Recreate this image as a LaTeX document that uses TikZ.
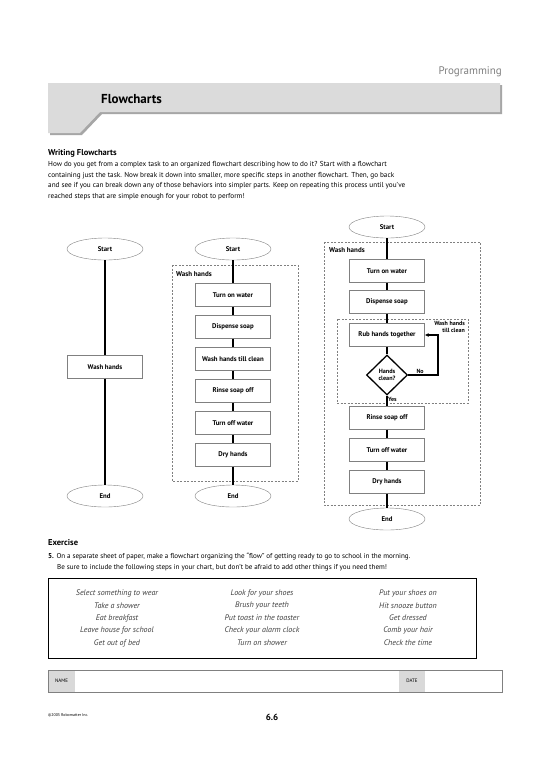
\documentclass[tikz,border=0pt]{standalone}
\usepackage{fontspec}
\setmainfont{PT Sans}
\usetikzlibrary{positioning,shapes.geometric,arrows.meta}

\begin{document}
\begin{tikzpicture}[x=1pt, y=-1pt, node distance=32pt, on grid,
   term/.style={ellipse, draw=gray, thin, minimum width=76pt, minimum height=22pt, inner sep=0pt, font=\bfseries\fontsize{6.8}{8}\selectfont},
   task/.style={rectangle, draw=gray, thin, minimum width=75pt, minimum height=23pt, inner sep=1pt, font=\bfseries\fontsize{6.8}{8}\selectfont},
   test/.style={diamond, aspect=1, draw=black, line width=1.3pt, minimum width=41pt, minimum height=40pt, inner sep=0pt, align=center, font=\bfseries\fontsize{6.2}{7.2}\selectfont},
   group/.style={draw=gray, dash pattern=on 2pt off 1.5pt, line width=0.6pt},
   grouplabel/.style={anchor=west, inner sep=0pt, font=\bfseries\fontsize{7}{8}\selectfont},
   flow/.style={line width=1.4pt},
   chore/.style={font=\itshape\fontsize{8}{9}\selectfont, text=black!75, inner sep=0pt},
   small/.style={font=\bfseries\fontsize{6}{7}\selectfont, inner sep=1pt}]
   \useasboundingbox (0,0) rectangle (550,777);
   \fill[white] (0,0) rectangle (550,777);

   % banner
   \fill[gray!70] (50,85) -- (502,85) -- (502,114) -- (102,114) -- (82,135) -- (50,135) -- cycle;
   \fill[gray!28] (48,83) -- (500,83) -- (500,112) -- (100,112) -- (80,133) -- (48,133) -- cycle;
   \node[anchor=east, inner sep=0pt, text=gray, font=\fontsize{11}{12}\selectfont] (part) at (502,72) {Programming};
   \node[anchor=west, inner sep=0pt, font=\bfseries\fontsize{13}{15}\selectfont] (title) at (101,99) {Flowcharts};

   % intro
   \node[anchor=west, inner sep=0pt, font=\bfseries\fontsize{8.5}{10}\selectfont] (intro) at (48,153) {Writing Flowcharts};
   \node[anchor=north west, inner sep=0pt, align=left, font=\fontsize{7.2}{10.8}\selectfont] (introtext) at (48,161)
     {How do you get from a complex task to an organized flowchart describing how to do it? Start with a flowchart\\
      containing just the task. Now break it down into smaller, more specific steps in another flowchart. Then, go back\\
      and see if you can break down any of those behaviors into simpler parts. Keep on repeating this process until you've\\
      reached steps that are simple enough for your robot to perform!};

   % first chart
   \node[term] (a_s) at (105,249) {Start};
   \node[task] (a_1) [below=118pt of a_s] {Wash hands};
   \node[term] (a_e) [below=129pt of a_1] {End};
   \path[flow] (a_s) edge (a_1)
               (a_1) edge (a_e);

   % second chart
   \draw[group] (172,265) rectangle (298,481);
   \node[grouplabel] (b_g) at (176,274) {Wash hands};
   \node[term] (b_s) at (233,249) {Start};
   \node[task] (b_1) [below=46pt of b_s] {Turn on water};
   \node[task] (b_2) [below=of b_1] {Dispense soap};
   \node[task] (b_3) [below=of b_2] {Wash hands till clean};
   \node[task] (b_4) [below=of b_3] {Rinse soap off};
   \node[task] (b_5) [below=of b_4] {Turn off water};
   \node[task] (b_6) [below=of b_5] {Dry hands};
   \node[term] (b_e) [below=41pt of b_6] {End};
   \path[flow] (b_s) edge (b_1)
               (b_1) edge (b_2)
               (b_2) edge (b_3)
               (b_3) edge (b_4)
               (b_4) edge (b_5)
               (b_5) edge (b_6)
               (b_6) edge (b_e);

   % third chart
   \draw[group] (324,242) rectangle (480,505);
   \draw[group] (337,319) rectangle (468,403);
   \node[grouplabel] (c_g) at (329,250) {Wash hands};
   \node[anchor=north east, align=right, small] (c_h) at (466,320) {Wash hands\\till clean};
   \node[term] (c_s) at (387,227) {Start};
   \node[task] (c_1) [below=44pt of c_s] {Turn on water};
   \node[task] (c_2) [below=31pt of c_1] {Dispense soap};
   \node[task] (c_3) [below=33pt of c_2] {Rub hands together};
   \node[test] (c_q) [below=40pt of c_3] {Hands\\clean?};
   \node[task] (c_4) [below=43pt of c_q] {Rinse soap off};
   \node[task] (c_5) [below=of c_4] {Turn off water};
   \node[task] (c_6) [below=of c_5] {Dry hands};
   \node[term] (c_e) [below=37pt of c_6] {End};
   \coordinate (c_back) at (438,335);
   \path[flow] (c_s) edge (c_1)
               (c_1) edge (c_2)
               (c_2) edge (c_3)
               (c_3) edge (c_q)
               (c_q) edge (c_4)
               (c_4) edge (c_5)
               (c_5) edge (c_6)
               (c_6) edge (c_e);
   \draw[flow, -{Latex[length=4pt,width=4pt]}] (c_q.east) -| node[pos=0.2, above, small] {No} (c_back) -- (c_3.east);
   \node[anchor=north west, small] (c_y) at (c_q.south) {Yes};

   % exercise
   \node[anchor=west, inner sep=0pt, font=\bfseries\fontsize{8.5}{10}\selectfont] (ex) at (48,543) {Exercise};
   \node[anchor=west, inner sep=0pt, font=\fontsize{7.1}{8}\selectfont] (ex1) at (48,556)
     {\textbf{5.} On a separate sheet of paper, make a flowchart organizing the ``flow'' of getting ready to go to school in the morning.};
   \node[anchor=west, inner sep=0pt, font=\fontsize{7.1}{8}\selectfont] (ex2) at (57,568)
     {Be sure to include the following steps in your chart, but don't be afraid to add other things if you need them!};
   \node[draw=black, line width=1.2pt, minimum width=428pt, minimum height=80pt, inner sep=0pt] (chores) at (262.5,618.5) {};
   \foreach \w [count=\i] in {Select something to wear, Take a shower, Eat breakfast, Leave house for school, Get out of bed}
     \node[chore] (x\i) at (117,580.5+12.5*\i) {\w};
   \foreach \w [count=\i] in {Look for your shoes, Brush your teeth, Put toast in the toaster, Check your alarm clock, Turn on shower}
     \node[chore] (y\i) at (262,580.5+12.5*\i) {\w};
   \foreach \w [count=\i] in {Put your shoes on, Hit snooze button, Get dressed, Comb your hair, Check the time}
     \node[chore] (z\i) at (408,580.5+12.5*\i) {\w};

   % name and date
   \node[draw=gray, thin, minimum width=454pt, minimum height=22pt, inner sep=0pt] (namebar) at (275,681) {};
   \node[fill=gray!30, minimum width=26pt, minimum height=21pt, inner sep=0pt, font=\fontsize{5}{6}\selectfont] (name) at (61.5,681) {NAME};
   \node[fill=gray!30, minimum width=26pt, minimum height=21pt, inner sep=0pt, font=\fontsize{5}{6}\selectfont] (date) at (412,681) {DATE};

   % footer
   \node[anchor=west, inner sep=0pt, font=\fontsize{4}{5}\selectfont] (copy) at (48,715) {\textcopyright2005 Robomatter Inc.};
   \node[inner sep=0pt, font=\bfseries\fontsize{9}{10}\selectfont] (page) at (272,717) {6.6};
\end{tikzpicture}
\end{document}
